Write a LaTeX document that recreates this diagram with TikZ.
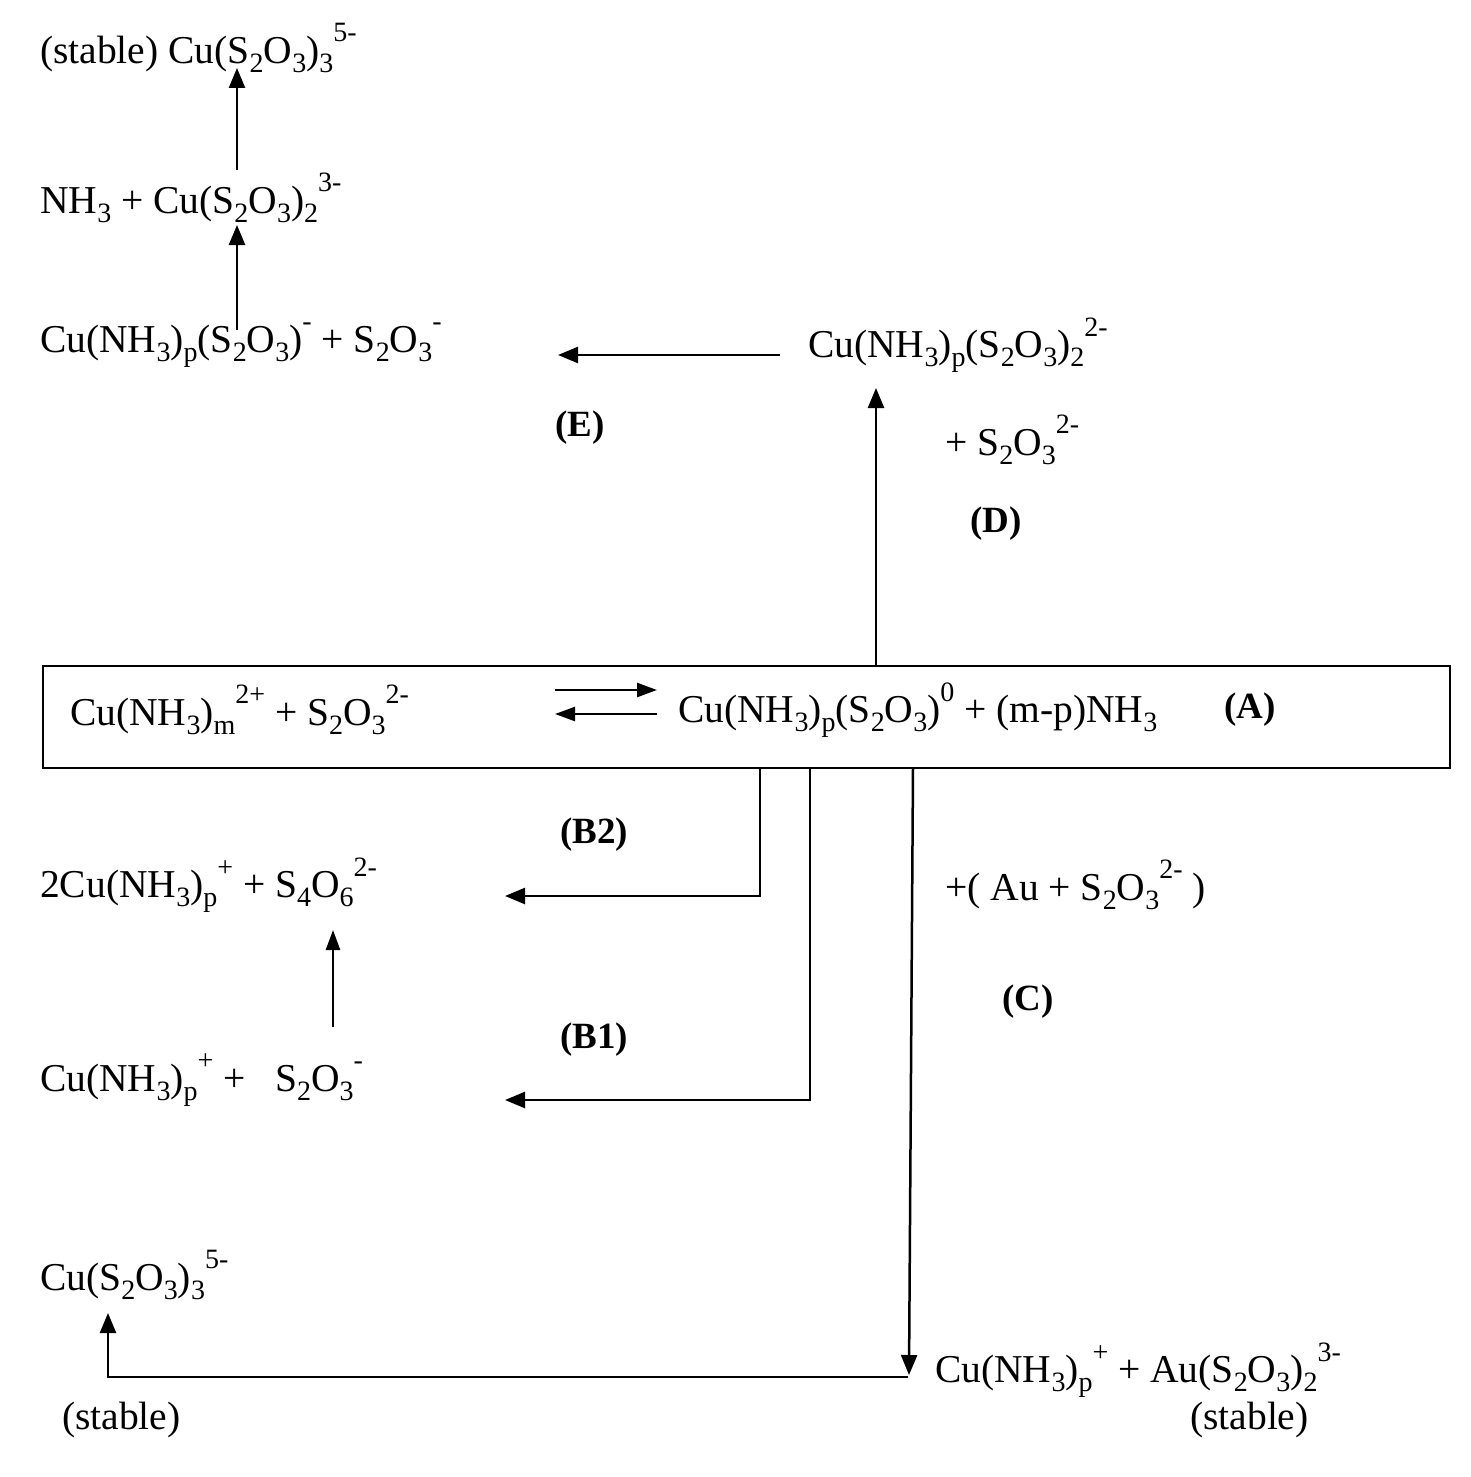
\documentclass[tikz,border=0pt]{standalone}
\usepackage{fontspec}
\setmainfont{Liberation Serif}
\usetikzlibrary{arrows.meta}
\newcommand{\sbs}[1]{\raisebox{-0.22em}{\fontsize{28}{30}\selectfont #1}}
\newcommand{\sps}[1]{\raisebox{0.55em}{\fontsize{28}{30}\selectfont #1}}
\begin{document}
\begin{tikzpicture}[x=1pt,y=-1pt,
  lbl/.style={anchor=west,inner sep=0pt,font=\fontsize{39.5}{42}\selectfont},
  bl/.style={inner sep=0pt,font=\fontsize{37}{40}\selectfont\bfseries},
  arr/.style={line width=2.5pt,-{Triangle[length=20pt,width=16pt]}},
  ln/.style={line width=2.5pt}]
\useasboundingbox (0,0) rectangle (1471,1477);
\node[lbl] (t1) at (40,48) {(stable) Cu(S\sbs{2}O\sbs{3})\sbs{3}\sps{5-}};
\node[lbl] (t2) at (40,198) {NH\sbs{3} + Cu(S\sbs{2}O\sbs{3})\sbs{2}\sps{3-}};
\node[lbl] (t3) at (40,345) {Cu(NH\sbs{3})\sbs{p}(S\sbs{2}O\sbs{3})\sps{-} + S\sbs{2}O\sbs{3}\sps{-}};
\node[lbl] (t4) at (808,345) {Cu(NH\sbs{3})\sbs{p}(S\sbs{2}O\sbs{3})\sbs{2}\sps{2-}};
\coordinate (e1) at (780,355); \coordinate (e2) at (558,355);
\draw[arr] (e1) -- (e2);
\node[bl] (E) at (580,428) {(E)};
\node[lbl] (d1) at (945,440) {+ S\sbs{2}O\sbs{3}\sps{2-}};
\node[bl] (D) at (996,524) {(D)};
\coordinate (a1) at (237,170); \coordinate (a2) at (237,68);
\coordinate (a3) at (237,330); \coordinate (a4) at (237,225);
\draw[arr] (a1) -- (a2); \draw[arr] (a3) -- (a4);
\node[draw,line width=2.5pt,minimum width=1407pt,minimum height=102pt,inner sep=0pt] (box) at (746.5,717) {};
\draw[arr] (876,666) -- (876,388);
\node[lbl] (r1) at (70,710) {Cu(NH\sbs{3})\sbs{m}\sps{2+} + S\sbs{2}O\sbs{3}\sps{2-}};
\draw[line width=2.5pt,-{Triangle[length=20pt,width=14pt]}] (555,690) -- (657,690);
\draw[line width=2.5pt,-{Triangle[length=20pt,width=14pt]}] (657,714) -- (555,714);
\node[lbl] (r2) at (678,710) {Cu(NH\sbs{3})\sbs{p}(S\sbs{2}O\sbs{3})\sps{0} + (m-p)NH\sbs{3}};
\node[bl] (A) at (1250,710) {(A)};
\draw[arr] (760,768) -- (760,896) -- (505,896);
\node[bl] (B2) at (594,835) {(B2)};
\node[lbl] (b2) at (40,885) {2Cu(NH\sbs{3})\sbs{p}\sps{+} + S\sbs{4}O\sbs{6}\sps{2-}};
\draw[line width=2.5pt,-{Triangle[length=20pt,width=14pt]}] (333,1027) -- (333,930);
\draw[arr] (810,768) -- (810,1100) -- (505,1100);
\node[bl] (B1) at (594,1040) {(B1)};
\node[lbl] (b1) at (40,1080) {Cu(NH\sbs{3})\sbs{p}\sps{+} +\ \ \ S\sbs{2}O\sbs{3}\sps{-}};
\draw[arr] (913,768) -- (909,1375);
\node[lbl] (c1) at (945,885) {+( Au + S\sbs{2}O\sbs{3}\sps{2-} )};
\node[bl] (C) at (1028,1002) {(C)};
\draw[arr] (908,1377) -- (108,1377) -- (108,1313);
\node[lbl] (s1) at (40,1275) {Cu(S\sbs{2}O\sbs{3})\sbs{3}\sps{5-}};
\node[lbl] (s2) at (62,1420) {(stable)};
\node[lbl] (p1) at (935,1370) {Cu(NH\sbs{3})\sbs{p}\sps{+} + Au(S\sbs{2}O\sbs{3})\sbs{2}\sps{3-}};
\node[lbl] (s3) at (1190,1420) {(stable)};
\end{tikzpicture}
\end{document}
